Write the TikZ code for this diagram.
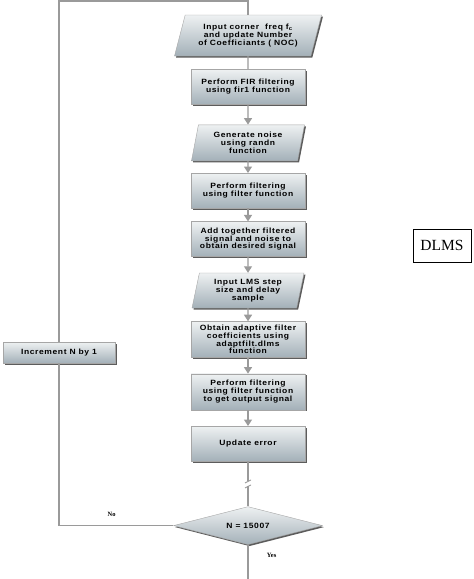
\documentclass[tikz,border=0pt]{standalone}
\usepackage{fontspec}
\setmainfont{Liberation Serif}
\newfontfamily\flowfont[FakeStretch=1.12,LetterSpace=8]{Liberation Sans}
\usetikzlibrary{arrows.meta,shapes.geometric,shadows,positioning,calc}
\definecolor{boxtop}{HTML}{EEF1F2}
\definecolor{boxbot}{HTML}{A3B0B8}
\definecolor{linegray}{HTML}{9A9A9A}
\tikzset{
  procbox/.style={rectangle, draw=gray!70, top color=boxtop, bottom color=boxbot,
    drop shadow={shadow xshift=1.5pt,shadow yshift=-1.5pt,fill=black!75,opacity=.85},
    minimum width=114pt, minimum height=35pt, inner sep=0pt, align=center,
    font=\flowfont\bfseries\fontsize{7.6}{7.9}\selectfont},
  iobox/.style={procbox, trapezium, trapezium stretches body},
  decbox/.style={procbox, diamond, aspect=3.9, minimum width=149pt, minimum height=38pt},
  flow/.style={draw=linegray, line width=1.2pt},
  flowarrow/.style={flow, -{Triangle[width=8pt,length=6.5pt]}},
  note/.style={font=\fontsize{6.5}{7}\selectfont\bfseries}
}
\begin{document}
\begin{tikzpicture}[x=1pt,y=-1pt]
    \useasboundingbox (0,0) rectangle (474,579);

    \node[iobox, trapezium left angle=65, trapezium right angle=115,
          minimum width=147pt, minimum height=41pt] (b1) at (248,35.5)
          {Input corner\ \ freq f\textsubscript{c}\\and update Number\\of Coefficiants ( NOC)};
    \node[procbox, below=13pt of b1] (b2) {Perform FIR filtering\\using fir1 function};
    \node[iobox, trapezium left angle=72, trapezium right angle=108,
          minimum width=113pt, minimum height=36pt, below=20pt of b2] (b3)
          {Generate noise\\using randn\\function};
    \node[procbox, below=12pt of b3] (b4) {Perform filtering\\using filter function};
    \node[procbox, below=13pt of b4] (b5) {Add together filtered\\signal and noise to\\obtain desired signal};
    \node[iobox, trapezium left angle=72, trapezium right angle=108,
          minimum width=112pt, minimum height=35pt, below=16pt of b5] (b6)
          {Input LMS step\\size and delay\\sample};
    \node[procbox, minimum height=36pt, below=13pt of b6] (b7)
          {Obtain adaptive filter\\coefficients using\\adaptfilt.dlms\\function};
    \node[procbox, minimum height=36pt, below=16pt of b7] (b8)
          {Perform filtering\\using filter function\\to get output signal};
    \node[procbox, below=16pt of b8] (b9) {Update error};
    \node[decbox, below=45pt of b9] (dec) {N = 15007};

    \node[procbox, minimum width=112pt, minimum height=21pt] (incr) at (59,352.5) {Increment N by 1};
    \node[draw, line width=0.8pt, minimum width=58pt, minimum height=33pt, inner sep=0pt,
          font=\fontsize{15.5}{18}\selectfont] (dlms) at (442,245.5) {DLMS};

    \coordinate (topl) at (incr |- 0,1);
    \coordinate (yesend) at (dec |- 0,579);
    \coordinate (brk) at ($(b9.south)!.5!(dec.north)$);

    % main chain
    \draw[flow] (b1) -- (b2);
    \foreach \a/\b in {b2/b3,b3/b4,b4/b5,b5/b6,b6/b7,b7/b8,b8/b9}
        \draw[flowarrow] (\a) -- (\b);
    \draw[flow] (b9) -- (dec);
    \fill[white] ($(brk)+(-4,-2.5)$) rectangle ($(brk)+(4,2.5)$);
    \draw[linegray, line width=0.9pt] ($(brk)+(-3,-1)$) -- ($(brk)+(3,-4)$)
                                      ($(brk)+(-3,4)$) -- ($(brk)+(3,1)$);

    % loop back
    \draw[flow] (dec.west) -- node[note, above=5pt, pos=.54] {No} (dec.west -| incr) -- (incr);
    \draw[flow] (incr) -- (topl) -| (b1.north);
    \draw[flow] (dec) -- node[note, right=15pt, pos=.3] {Yes} (yesend);
\end{tikzpicture}
\end{document}
